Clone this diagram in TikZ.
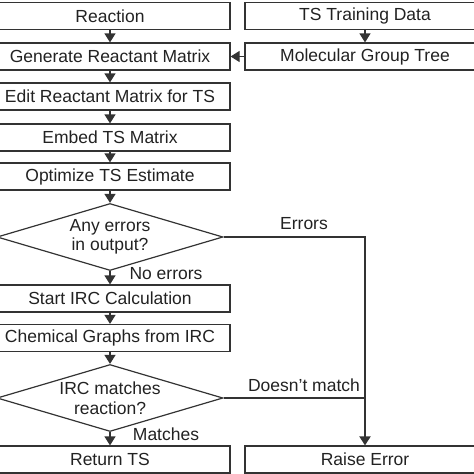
\documentclass[tikz,border=0pt]{standalone}
\usepackage{fontspec}
\setmainfont{Liberation Sans}
\usetikzlibrary{arrows.meta,shapes.geometric}
\definecolor{ln}{HTML}{333333}
\definecolor{tx}{HTML}{222222}
\begin{document}
\begin{tikzpicture}[x=1pt,y=-1pt,
 box/.style={draw=ln,line width=1.2pt,minimum width=240pt,minimum height=27pt,inner sep=0pt,font=\fontsize{17.5}{20}\selectfont,text=tx},
 dec/.style={draw=ln,line width=1.2pt,shape=diamond,aspect=3,minimum width=226pt,minimum height=67pt,inner sep=0pt,align=center,font=\fontsize{17.5}{19.5}\selectfont,text=tx},
 arr/.style={draw=ln,line width=1.2pt,-{Triangle[width=11pt,length=9pt]}},
 thick arr/.style={draw=ln,line width=2pt,-{Triangle[width=11pt,length=9pt]}},
 thick line/.style={draw=ln,line width=2pt},
 lbl/.style={font=\fontsize{17.5}{20}\selectfont,text=tx,inner sep=0pt}]
\useasboundingbox (0,0) rectangle (474,474);
\clip (0,0) rectangle (474,474);
\node[box] (reac) at (110,16) {Reaction};
\node[box] (gen) at (110,56.5) {Generate Reactant Matrix};
\node[box] (edit) at (110,96.5) {Edit Reactant Matrix for TS};
\node[box] (emb) at (110,137.5) {Embed TS Matrix};
\node[box] (opt) at (110,176.5) {Optimize TS Estimate};
\node[dec] (d1) at (110,237) {Any errors\\in output?};
\node[box] (irc) at (110,298.5) {Start IRC Calculation};
\node[box] (chem) at (110,338) {Chemical Graphs from IRC};
\node[dec] (d2) at (110,398) {IRC matches\\reaction?};
\node[box] (ret) at (110,459.5) {Return TS};
\node[box] (tsd) at (365,16) {TS Training Data};
\node[box] (mgt) at (365,56.5) {Molecular Group Tree};
\node[box] (err) at (365,459.5) {Raise Error};
\coordinate (c1) at (365,237);
\draw[arr] (reac) -- (gen);
\draw[arr] (gen) -- (edit);
\draw[arr] (edit) -- (emb);
\draw[arr] (emb) -- (opt);
\draw[arr] (opt) -- (d1);
\draw[arr] (d1) -- (irc);
\draw[arr] (irc) -- (chem);
\draw[arr] (chem) -- (d2);
\draw[arr] (d2) -- (ret);
\draw[arr] (tsd) -- (mgt);
\draw[arr] (mgt) -- (gen);
\draw[thick arr] (d1.east) -| (err.north);
\draw[thick line] (d2.east) -- (d2.east -| c1);
\node[lbl] (le) at (304,224) {Errors};
\node[lbl] (ld) at (304,385) {Doesn't match};
\node[lbl] (lne) at (166,274) {No errors};
\node[lbl] (lm) at (166,434) {Matches};
\end{tikzpicture}
\end{document}
